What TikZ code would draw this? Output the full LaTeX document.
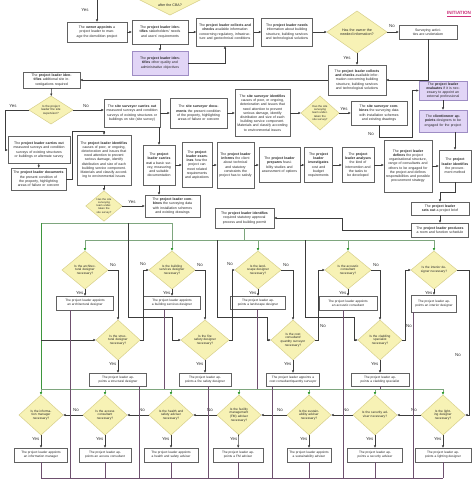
\documentclass[tikz,border=0pt]{standalone}
\usepackage{fontspec}
\setmainfont{Liberation Sans}
\usetikzlibrary{shapes.geometric,arrows.meta,calc}
\definecolor{boxc}{HTML}{626262}
\definecolor{purpf}{HTML}{E1D5F6}
\definecolor{purpd}{HTML}{9E8DC4}
\definecolor{diaf}{HTML}{F7F2B5}
\definecolor{diad}{HTML}{D8D08C}
\definecolor{linec}{HTML}{3C3C3C}
\definecolor{busc}{HTML}{7EA67E}
\definecolor{gtip}{HTML}{2E9A2E}
\definecolor{glinec}{HTML}{3D963D}
\definecolor{thruc}{HTML}{6E506E}
\definecolor{pinkc}{HTML}{CC2E78}
\tikzset{
  box/.style={draw=boxc, line width=0.85pt, fill=white, inner sep=0.6pt, outer sep=0pt, align=center, text=black!85, font=\fontsize{3.5}{4.2}\selectfont},
  ybox/.style={box, line width=0.75pt, font=\fontsize{3.2}{3.8}\selectfont},
  pbox/.style={box, fill=purpf, draw=purpd},
  sz/.code 2 args={\pgfmathsetlengthmacro\mytw{#1-4}\edef\mytmp{\noexpand\pgfkeysalso{minimum width=#1pt,minimum height=#2pt,text width=\mytw}}\mytmp},
  dia/.style={diamond, draw=diad, fill=diaf, line width=0.5pt, inner sep=0pt, outer sep=0pt, align=center, text=black!85, font=\fontsize{3.2}{3.8}\selectfont},
  dA/.style={dia, minimum width=46pt, minimum height=38pt, text width=27pt, aspect=1.2},
  dB/.style={dia, minimum width=44pt, minimum height=40pt, text width=26pt, aspect=1.1},
  conn/.style={draw=linec, line width=0.55pt},
  arr/.style={conn, -{Latex[length=2.6pt,width=2.4pt]}},
  bus/.style={draw=busc, line width=0.6pt},
  garr/.style={draw=busc, line width=0.6pt, -{Latex[length=2.8pt,width=2.6pt,color=gtip]}},
  gline/.style={draw=glinec, line width=0.9pt},
  thru/.style={draw=thruc, line width=0.55pt},
  lab/.style={inner sep=0pt, text=black!80, font=\fontsize{4.4}{5}\selectfont},
}
\begin{document}
\begin{tikzpicture}[x=1pt,y=-1pt]
\useasboundingbox (0,0) rectangle (474,482);
\fill[white] (0,0) rectangle (474,482);

% ---------- top section ----------
\node[dia, minimum width=120pt, minimum height=60pt] (dtop) at (170,-15) {};
\node[inner sep=0pt, text=black!85, font=\fontsize{3.6}{4.2}\selectfont] (dtopt) at (170,5) {after the CBA?};
\node[box, sz={60}{20}] (b1) at (97,32) {The \textbf{owner appoints} a project leader to manage the demolition project};
\node[box, sz={56}{24}] (b2) at (160,32) {The \textbf{project leader identifies} stakeholders' needs and users' requirements};
\node[pbox, sz={56}{24}] (p1) at (160,63) {The \textbf{project leader identifies} other quality and administrative objectives};
\node[box, sz={57}{28}] (b3) at (225,32) {The \textbf{project leader collects and checks} available information concerning regulatory, infrastructure and geotechnical conditions};
\node[box, sz={51}{28}] (b4) at (287,32) {The \textbf{project leader needs} information about building structure, building services and technological solutions};
\node[dia, minimum width=60pt, minimum height=42pt, text width=34pt, aspect=1.4, font=\fontsize{3.6}{4.3}\selectfont] (d1) at (357,32) {Has the owner the needed information?};
\node[box, sz={58}{14}] (b5) at (428,32) {Surveying activities are undertaken};
\node[box, sz={58}{30}] (b6) at (357,80) {The \textbf{project leader collects and checks} available information concerning building structure, building services and technological solutions};
\node[inner sep=0pt, text=pinkc, font=\fontsize{4.6}{5}\selectfont\bfseries] (init) at (459,14) {\underline{INITIATION}};

\node[box, sz={57}{16}] (b7) at (51.5,80) {The \textbf{project leader identifies} additional site investigations required};
\node[dia, minimum width=44pt, minimum height=28pt, text width=22pt, aspect=1.5, font=\fontsize{3}{3.5}\selectfont] (d2) at (51,110) {Is the project leader the site supervisor?};
\node[box, sz={62}{27}] (b8) at (39,150) {The \textbf{project leader carries out} measured surveys and condition surveys of existing structures or buildings or alternate survey};
\node[box, sz={55}{22}] (b9) at (38.5,179) {The \textbf{project leader documents} the present condition of the property, highlighting areas of failure or concern};
\node[box, sz={54}{50}] (b10) at (104,160) {The \textbf{project leader identifies} causes of poor, or ongoing, deterioration and issues that need attention to prevent serious damage, identify distribution and size of each building service component. Materials and classify according to environmental issues};
\node[dia, minimum width=36pt, minimum height=28pt, text width=18pt, aspect=1.2, font=\fontsize{2.7}{3.2}\selectfont] (d3) at (104,206) {Has the site surveying team undertaken the site survey?};
\node[box, sz={55}{22}] (b11) at (172.5,206) {The \textbf{project leader combines} the surveying data with installation schemes and existing drawings};

\node[box, sz={56}{28}] (b12) at (132,113) {The \textbf{site surveyor carries out} measured surveys and condition surveys of existing structures or buildings on site (site survey)};
\node[box, sz={57}{30}] (b13) at (198.5,113) {The \textbf{site surveyor documents} the present condition of the property, highlighting areas of failure or concern};
\node[box, sz={55}{47}] (b14) at (262.5,113) {The \textbf{site surveyor identifies} causes of poor, or ongoing, deterioration and issues that need attention to prevent serious damage, identify distribution and size of each building service component. Materials and classify according to environmental issues};
\node[dia, minimum width=38pt, minimum height=34pt, text width=19pt, aspect=1.2, font=\fontsize{2.8}{3.3}\selectfont] (d4) at (320,113) {Has the site surveying team undertaken the site survey?};
\node[box, sz={56}{24}] (b15) at (379,113) {The \textbf{site surveyor combines} the surveying data with installation schemes and existing drawings};
\node[pbox, sz={48}{19}] (p2) at (443,90.5) {The \textbf{project leader evaluates} if it is necessary to appoint an external professional};
\node[pbox, sz={48}{22}] (p3) at (443,121) {The \textbf{client/owner appoints} designers to be engaged for the project};

% middle row
\node[box, sz={32}{40}] (b16) at (159,165) {The \textbf{project leader carries out} a basic survey, measuring and suitable documentation};
\node[box, sz={30}{45}] (b17) at (197,165) {The \textbf{project leader examines} how the project can meet related requirements and aspirations};
\node[box, sz={37}{46}] (b18) at (235.5,165) {The \textbf{project leader informs} the client about technical and statutory constraints the project has to satisfy};
\node[box, sz={41}{35}] (b19) at (279.5,165) {The \textbf{project leader prepares} feasibility studies and assessment of options};
\node[box, sz={28}{35}] (b20) at (318.5,165) {The \textbf{project leader investigates} cost and budget requirements};
\node[box, sz={32}{35}] (b21) at (358,165) {The \textbf{project leader analyses} the kind of intervention and the tasks to be developed};
\node[box, sz={48}{52}] (b22) at (408,166) {The \textbf{project leader defines} the project organisational structure, range of consultants and others to be engaged for the project and defines responsibilities and possible procurement strategy};
\node[box, sz={32}{32}] (b23) at (455,166) {The \textbf{project leader identifies} the procurement method};
\node[box, sz={58}{13}] (b24) at (440,208.5) {The \textbf{project leader sets out} a project brief};
\node[box, sz={57}{14}] (b25) at (440,230) {The \textbf{project leader produces} a room and function schedule};
\node[box, sz={59}{20}] (b26) at (244.5,218) {The \textbf{project leader identifies} required statutory approval process and building permit};

% ---------- designers section ----------
\node[dA] (DA1) at (85,270) {Is the architectural designer necessary?};
\node[dA] (DA2) at (172,270) {Is the building services designer necessary?};
\node[dA] (DA3) at (258,270) {Is the landscape designer necessary?};
\node[dA] (DA4) at (348,270) {Is the acoustic consultant necessary?};
\node[dA] (DA5) at (434,270) {Is the interior designer necessary?};
\node[ybox, sz={57}{14}] (YA1) at (85,303) {The project leader appoints an architectural designer};
\node[ybox, sz={57}{13}] (YA2) at (172,302.5) {The project leader appoints a building services designer};
\node[ybox, sz={55}{13}] (YA3) at (258,302.5) {The project leader appoints a landscape designer};
\node[ybox, sz={58}{14}] (YA4) at (348,303) {The project leader appoints an acoustic consultant};
\node[ybox, sz={45}{17}] (YA5) at (434,303.5) {The project leader appoints an interior designer};

\node[dB] (DB1) at (118,340) {Is the structural designer necessary?};
\node[dB, minimum width=48pt] (DB2) at (205,340) {Is the fire safety designer necessary?};
\node[dB] (DB3) at (293,340) {Is the cost consultant/\allowbreak quantity surveyor necessary?};
\node[dB] (DB4) at (380,340) {Is the cladding specialist necessary?};
\node[ybox, sz={57}{13}] (YB1) at (118,379.5) {The project leader appoints a structural designer};
\node[ybox, sz={52}{13}] (YB2) at (205,379.5) {The project leader appoints a fire safety designer};
\node[ybox, sz={53}{13}] (YB3) at (293,379.5) {The project leader appoints a cost consultant/\allowbreak quantity surveyor};
\node[ybox, sz={58}{13}] (YB4) at (380,379.5) {The project leader appoints a cladding specialist};

\node[dB] (DC1) at (443,415) {Is the lighting designer necessary?};
\node[dB] (DC2) at (375,415) {Is the security adviser necessary?};
\node[dB] (DC3) at (309,415) {Is the sustainability adviser necessary?};
\node[dB] (DC4) at (239,415) {Is the facility management (FM) adviser necessary?};
\node[dB] (DC5) at (171,415) {Is the health and safety adviser necessary?};
\node[dB] (DC6) at (105,415) {Is the access consultant necessary?};
\node[dB] (DC7) at (41,415) {Is the information manager necessary?};
\node[ybox, sz={56}{14}] (YC1) at (443,455) {The project leader appoints a lighting designer};
\node[ybox, sz={55}{14}] (YC2) at (375,455) {The project leader appoints a security adviser};
\node[ybox, sz={44}{14}] (YC3) at (309,455) {The project leader appoints a sustainability adviser};
\node[ybox, sz={50}{14}] (YC4) at (238,455) {The project leader appoints a FM adviser};
\node[ybox, sz={54}{14}] (YC5) at (171,455) {The project leader appoints a health and safety adviser};
\node[ybox, sz={52}{14}] (YC6) at (105,455) {The project leader appoints an access consultant};
\node[ybox, sz={53}{14}] (YC7) at (41,455) {The project leader appoints an information manager};

% ---------- connectors: top ----------
\draw[arr] (dtop.west) -| (b1.north);
\draw[arr] (b1) -- (b2);
\draw[arr] (b2) -- (p1);
\draw[arr] (b2) -- (b3);
\draw[arr] (b3) -- (b4);
\draw[arr] (b4) -- (d1);
\draw[arr] (d1) -- (b5);
\draw[arr] (p1.east) -| (b3.south);
\draw[arr] (d1) -- (b6);
\draw[arr] (b5.south) |- (b6.east);
\draw[arr] (b6.west) -- (b6.west -| b7.east);
\draw[arr] (b7) -- (d2);
\draw[arr] (d2.west) -- ++(-24,0) |- (b8.west);
\draw[arr] (d2.east) -- (d2.east -| b12.west);
\draw[arr] (b8) -- (b9);
\coordinate (c1) at (72,131);
\draw[arr] (b9.east) -| (c1) -| (b10.north);
\draw[arr] (b10) -- (d3);
\draw[arr] (d3) -- (b11);
\draw[arr] (b12) -- (b13);
\draw[arr] (b13) -- (b14);
\draw[arr] (b14) -- (d4);
\draw[arr] (d4) -- (b15);
\coordinate (c2) at (412,137);
\draw[arr] (b15.south) |- (c2) |- (p2.west);
\draw[arr] (p2) -- (p3);
\draw[arr] (p3.south -| b23.north) -- (b23.north);
\draw[arr] (b12.south -| b16.north) -- (b16.north);
\draw[arr] (b16.south) -- (b16.south |- b11.north);
\draw[arr] (b16) -- (b17);
\draw[arr] (b17) -- (b18);
\draw[arr] (b18) -- (b19);
\draw[arr] (b19) -- (b20);
\draw[arr] (b20) -- (b21);
\draw[arr] (b21.east) -- (b21.east -| b22.west);
\draw[arr] (b22.east) -- (b22.east -| b23.west);
\draw[arr] (b23.south) -- ++(0,10) -| (b24.north);
\draw[arr] (b24) -- (b25);
\coordinate (c3) at (342,230);
\draw[arr] (b25.west) -- (c3) |- (b26.east);

% labels top
\node[lab] at (85,10) {Yes};
\node[lab] at (392,26) {No};
\node[lab] at (347,58) {Yes};
\node[lab] at (13,106) {Yes};
\node[lab] at (86,106) {No};
\node[lab] at (132,202) {Yes};
\node[lab] at (344,109) {Yes};
\node[lab] at (371,134) {No};

% ---------- buses ----------
\coordinate (busA) at (0,240);
\coordinate (busB) at (0,317);
\coordinate (busC) at (0,389);
\coordinate (busBot) at (0,478);
\coordinate (j0) at (41,223);
\coordinate (j1) at (172,223);
\coordinate (j2) at (128,223);
\coordinate (f2) at (217,240);
\coordinate (k2) at (267,317);
\coordinate (f3) at (305,240);
\coordinate (k3) at (354,317);

\draw[bus] (b26.south) -- (b26.south |- busA);
\draw[bus] (DA1.north |- busA) -- (DA5.north |- busA);
\draw[bus] (j0) -- (j1) -- (j1 |- busA);
\foreach \d in {DA1,DA2,DA3,DA4,DA5} \draw[garr] (\d.north |- busA) -- (\d.north);
\draw[arr] (j2) |- (j1 |- busB) |- (DB2.west);
\draw[arr] (f2) |- (k2) |- (DB3.west);
\draw[arr] (f3) |- (k3) |- (DB4.west);
\draw[gline] (j0) -- (j0 |- busC);
\draw[arr] (j0 |- DB1.west) -- (DB1.west);
\draw[bus] (DC7.north |- busC) -- (DC1.north |- busC);
\foreach \d in {DC1,DC2,DC3,DC4,DC5,DC6,DC7} \draw[garr] (\d.north |- busC) -- (\d.north);

% yes arrows
\foreach \d/\y in {DA1/YA1,DA2/YA2,DA3/YA3,DA4/YA4,DA5/YA5,DB1/YB1,DB2/YB2,DB3/YB3,DB4/YB4,DC1/YC1,DC2/YC2,DC3/YC3,DC4/YC4,DC5/YC5,DC6/YC6,DC7/YC7}{
  \draw[arr] (\d) -- (\y);
  \node[lab, anchor=east] at ($(\d.south)+(-1.5,4.5)$) {Yes};
}

% no paths
\draw[arr] (DA1.east) -| (DB1.north);
\draw[arr] (DB1.east) -- ++(3,0) |- (DA2.west);
\draw[arr] (DA2.east) -| (DB2.north);
\draw[arr] (DB2.east) -- ++(3,0) |- (DA3.west);
\draw[arr] (DA3.east) -| (DB3.north);
\draw[arr] (DB3.east) -- ++(3,0) |- (DA4.west);
\draw[arr] (DA4.east) -| (DB4.north);
\draw[arr] (DB4.east) -- ++(3,0) |- (DA5.west);
\draw[arr] (DA5.east) -- ++(12,0) |- (DC1.east);
\draw[arr] (DC1) -- (DC2);
\draw[arr] (DC2) -- (DC3);
\draw[arr] (DC3) -- (DC4);
\draw[arr] (DC4) -- (DC5);
\draw[arr] (DC5) -- (DC6);
\draw[arr] (DC6) -- (DC7);
\foreach \d in {DA1,DA2,DA3,DA4} \node[lab] at ($(\d.east)+(5,-5)$) {No};
\node[lab] at ($(DA2.west)+(-6,-6)$) {No};
\node[lab] at ($(DA3.west)+(-5,-6)$) {No};
\node[lab] at ($(DB3.east)+(8,-14)$) {No};
\node[lab] at ($(DB4.east)+(7,-14)$) {No};
\node[lab] at (458,355) {No};
\foreach \d in {DC1,DC2,DC3,DC4,DC5,DC6} \node[lab] at ($(\d.west)+(-7,-5)$) {No};

% drop lines
\path (YA2.south) ++(-8,0) coordinate (t2);
\path (YA3.south) ++(-1,0) coordinate (t3);
\draw[thru] (t2) -- (t2 |- busC);
\draw[thru] (t3) -- (t3 |- busC);
\draw[thru] (YB4.south) -- (YB4.south |- busC);
\path (YA1.south) ++(-15,0) coordinate (t1);
\path (YB1.south) ++(21,0) coordinate (t4);
\path (YB2.south) ++(3,0) coordinate (t5);
\path (YB3.south) ++(-21,0) coordinate (t6);
\path (YA4.south) ++(-5,0) coordinate (t7);
\path (YA5.south) ++(-21,0) coordinate (t8);
\foreach \t in {t1,t4,t5,t6,t7,t8} \draw[thru] (\t) -- (\t |- busBot);
\foreach \y in {YC1,YC2,YC3,YC4,YC5,YC6,YC7} \draw[thru] (\y.south) -- (\y.south |- busBot);
\draw[thru] (YC7.south |- busBot) -- (YC1.south |- busBot);
\end{tikzpicture}
\end{document}
